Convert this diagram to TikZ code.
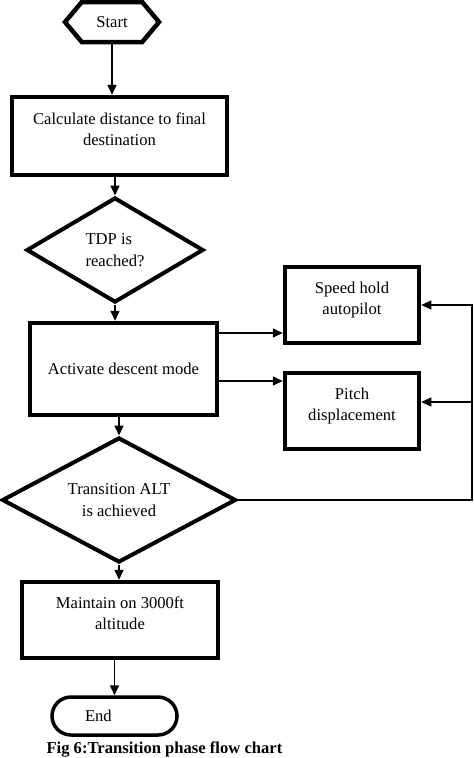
\documentclass[tikz,border=0pt]{standalone}
\usepackage{fontspec}
\setmainfont{Liberation Serif}
\usetikzlibrary{shapes.geometric, shapes.symbols, arrows.meta}

\begin{document}
\begin{tikzpicture}[x=1pt, y=-1pt,
    font=\fontsize{16.6}{21.5}\selectfont,
    box/.style={draw, rectangle, line width=4.5pt, inner sep=0pt, align=center},
    twoline/.style={text depth=14pt},
    decision/.style={draw, diamond, line width=4pt, inner sep=0pt},
    arr/.style={line width=1.6pt, -{Triangle[length=10pt, width=9pt]}},
    back/.style={line width=1.2pt, -{Triangle[length=10pt, width=9pt]}}]
    \useasboundingbox (0, 0) rectangle (474, 758);

    % start
    \node[draw, signal, signal to=west and east, signal pointer angle=100,
        line width=4.5pt, inner sep=0pt, minimum width=94pt, minimum height=40pt]
        (start) at (112, 22) {Start};

    % main column
    \node[box, twoline, minimum width=215pt, minimum height=78pt] (calc) at (119.5, 136)
        {Calculate distance to final\\destination};
    \node[decision, aspect=1.69, minimum width=177pt, minimum height=105pt, align=left]
        (tdp) at (115, 250) {TDP is\\reached?};
    \node[box, minimum width=187pt, minimum height=92pt] (act) at (123.5, 369)
        {Activate descent mode};
    \node[decision, aspect=1.87, minimum width=234pt, minimum height=125pt, align=center]
        (trans) at (119, 500) {Transition ALT\\is achieved};
    \node[box, twoline, minimum width=196pt, minimum height=76pt] (maint) at (120, 620)
        {Maintain on 3000ft\\altitude};
    \node[draw, rectangle, rounded corners=19pt, line width=3.5pt, minimum height=38pt,
        text width=59pt, inner xsep=33pt, align=left] (stop) at (114.5, 716) {End};

    % side boxes
    \node[box, twoline, minimum width=134pt, minimum height=76pt] (speed) at (352, 305)
        {Speed hold\\autopilot};
    \node[box, twoline, minimum width=134pt, minimum height=76pt] (pitch) at (352, 411)
        {Pitch\\displacement};

    % caption
    \node[anchor=base west, font=\fontsize{16.6}{20}\selectfont\bfseries] (caption)
        at (43, 753) {Fig 6:Transition phase flow chart};

    % arrows down
    \draw[arr] (start.south) -- (start.south |- calc.north);
    \draw[arr] (tdp.north |- calc.south) -- (tdp.north);
    \draw[arr] (tdp.south) -- (tdp.south |- act.north);
    \draw[arr] (trans.north |- act.south) -- (trans.north);
    \draw[arr] (trans.south) -- (trans.south |- maint.north);
    \draw[arr] (stop.north |- maint.south) -- (stop.north);

    % arrows to the side
    \draw[arr] (act.east |- 0,333) -- (speed.west |- 0,333);
    \draw[arr] (act.east |- 0,381) -- (pitch.west |- 0,381);

    % feedback
    \coordinate (fb) at (472, 500);
    \draw[back] (trans.east) -- (fb) |- (speed.east);
    \draw[back] (fb |- 0,402) -- (pitch.east |- 0,402);
\end{tikzpicture}
\end{document}
